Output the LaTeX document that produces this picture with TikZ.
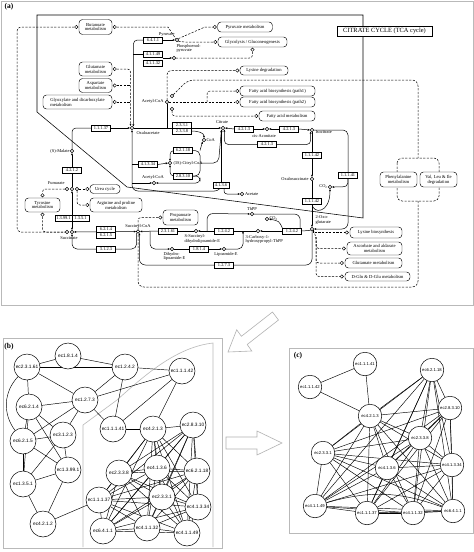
\documentclass[tikz,border=0pt]{standalone}
\usepackage{fontspec}
\setmainfont{Liberation Serif}
\newfontfamily\arialf{Liberation Sans}
\usetikzlibrary{arrows.meta}
\pgfdeclarelayer{back}
\pgfdeclarelayer{bg}
\pgfsetlayers{back,bg,main}
\tikzset{
  enz/.style={draw, fill=white, inner sep=0pt, minimum width=19pt, minimum height=6pt, font=\fontsize{4.4}{4.6}\selectfont, line width=0.45pt},
  mapb/.style={draw, fill=white, rounded corners=3.5pt, inner sep=1pt, align=center, font=\fontsize{4.6}{4.9}\selectfont, line width=0.45pt},
  cpd/.style={circle, draw, fill=white, inner sep=0pt, minimum size=3.4pt, line width=0.45pt},
  lbl/.style={inner sep=0.3pt, align=center, font=\fontsize{4.4}{4.6}\selectfont},
  ln/.style={line width=0.5pt},
  dl/.style={line width=0.5pt, dash pattern=on 2.2pt off 1.4pt},
  ar/.style={-{Latex[length=2.3pt,width=2.1pt]}},
  arb/.style={{Latex[length=2.3pt,width=2.1pt]}-{Latex[length=2.3pt,width=2.1pt]}},
  gn/.style={circle, draw, fill=white, minimum size=26pt, inner sep=0pt, font=\arialf\fontsize{4.8}{5}\selectfont, line width=0.5pt},
  gc/.style={circle, draw, fill=white, minimum size=23.5pt, inner sep=0pt, font=\arialf\fontsize{4.2}{5}\selectfont, line width=0.5pt},
  ge/.style={line width=0.45pt},
  frm/.style={draw=gray!55, line width=0.8pt},
  plbl/.style={font=\bfseries\fontsize{7.5}{8}\selectfont, inner sep=0pt},
  bigarr/.style={draw=gray!60, fill=white, line width=0.6pt},
}
\begin{document}
\begin{tikzpicture}[x=1pt,y=-1pt]
\begin{pgfonlayer}{back}
\fill[white] (0,0) rectangle (474,552);
\end{pgfonlayer}
\useasboundingbox (0,0) rectangle (474,552);
% ================= panel (a) =================
\draw[frm] (1,1) rectangle (473,305);
\node[plbl] (la) at (9,7) {(a)};
\draw[line width=0.55pt] (37,112) -- (37,15) -- (363,15) -- (363,218) -- (127,187) -- cycle;
\node[draw, line width=1pt, fill=white, font=\fontsize{6.4}{7}\selectfont, minimum width=95pt, minimum height=10pt, inner sep=0pt] (title) at (384.5,31) {CITRATE CYCLE (TCA cycle)};
\draw[dl, rounded corners=5] (397,158) rectangle (439,201);

% compounds
\node[cpd] (pyr) at (177,40) {};
\node[cpd] (pep) at (174,58) {};
\node[cpd] (acoa) at (167,102) {};
\node[cpd] (acoaT) at (172,96) {};
\node[cpd] (acoaB) at (172,109) {};
\node[cpd] (oaa) at (132,128) {};
\node[cpd] (cit) at (223,128) {};
\node[cpd] (cisa) at (267,129) {};
\node[cpd] (icit) at (312,130) {};
\node[cpd] (oxs) at (312,179) {};
\node[cpd] (co2a) at (330,187) {};
\node[cpd] (akg) at (312,229) {};
\node[cpd] (coa) at (204,140) {};
\node[cpd] (citcoa) at (170,163) {};
\node[cpd] (acoa2) at (154,183) {};
\node[cpd] (acet) at (242,194) {};
\node[cpd] (tpp) at (252,214) {};
\node[cpd] (co2b) at (267,219) {};
\node[cpd] (carb) at (258,231) {};
\node[cpd] (ssdl) at (196,231) {};
\node[cpd] (dhl) at (172,249) {};
\node[cpd] (lip) at (224,249) {};
\node[cpd] (sucoa) at (138,231.5) {};
\node[cpd] (succ) at (72,232) {};
\node[cpd] (succL) at (67,232) {};
\node[cpd] (fum) at (72,189) {};
\node[cpd] (fumL) at (67,189) {};
\node[cpd] (fumR) at (77,189) {};
\node[cpd] (mal) at (72,151) {};

% enzymes
\node[enz] (e6411) at (153,40) {6.4.1.1};
\node[enz] (e41149) at (153,54) {4.1.1.49};
\node[enz] (e41132) at (153,63) {4.1.1.32};
\node[enz] (e11137) at (101,128) {1.1.1.37};
\node[enz] (e2331) at (182,125) {2.3.3.1};
\node[enz] (e2338) at (182,131) {2.3.3.8};
\node[enz] (e4213a) at (244,129) {4.2.1.3};
\node[enz] (e4213b) at (289,129) {4.2.1.3};
\node[enz] (e4213c) at (267,144.5) {4.2.1.3};
\node[enz] (e11142a) at (312,155) {1.1.1.42};
\node[enz] (e11141) at (348,175) {1.1.1.41};
\node[enz] (e11142b) at (312,201) {1.1.1.42};
\node[enz] (e62118) at (183,150.5) {6.2.1.18};
\node[enz] (e41334) at (148,164.5) {4.1.3.34};
\node[enz] (e28310) at (183,176) {2.8.3.10};
\node[enz, minimum width=16pt] (e4136) at (221,185) {4.1.3.6};
\node[enz] (e4212) at (72,170) {4.2.1.2};
\node[enz, minimum width=17pt] (e13991) at (63.5,218) {1.3.99.1};
\node[enz, minimum width=17pt] (e1351) at (80.5,218) {1.3.5.1};
\node[enz] (e6214) at (106,229) {6.2.1.4};
\node[enz] (e6215) at (106,235) {6.2.1.5};
\node[enz] (e3123) at (106,249) {3.1.2.3};
\node[enz] (e23161) at (168,231) {2.3.1.61};
\node[enz] (e1242a) at (224,231) {1.2.4.2};
\node[enz] (e1242b) at (292,231) {1.2.4.2};
\node[enz] (e1814) at (199,249) {1.8.1.4};
\node[enz] (e1273) at (224,265) {1.2.7.3};

% maps
\node[mapb, minimum width=33pt, minimum height=15pt] (mBut) at (95.5,27) {Butanoate\\metabolism};
\node[mapb, minimum width=55pt, minimum height=10pt] (mPyr) at (245,27) {Pyruvate metabolism};
\node[mapb, minimum width=69pt, minimum height=10pt] (mGly) at (252.5,42) {Glycolysis / Gluconeogenesis};
\node[mapb, minimum width=33pt, minimum height=14pt] (mGlu) at (95.5,69) {Glutamate\\metabolism};
\node[mapb, minimum width=33pt, minimum height=14pt] (mAsp) at (95.5,85.5) {Aspartate\\metabolism};
\node[mapb, minimum width=69pt, minimum height=14pt, align=left] (mGlx) at (77.5,102) {Glyoxylate and dicarboxylate\\metabolism};
\node[mapb, minimum width=48pt, minimum height=9pt] (mLysD) at (264,70.5) {Lysine degradation};
\node[mapb, minimum width=75pt, minimum height=10pt] (mFA1) at (277.5,91) {Fatty acid biosynthesis (path1)};
\node[mapb, minimum width=75pt, minimum height=10pt] (mFA2) at (277.5,102) {Fatty acid biosynthesis (path2)};
\node[mapb, minimum width=56pt, minimum height=10pt] (mFAm) at (287,116) {Fatty acid metabolism};
\node[mapb, minimum width=37pt, minimum height=15pt] (mPhe) at (398.5,179.5) {Phenylalanine\\metabolism};
\node[mapb, minimum width=37pt, minimum height=15pt] (mVal) at (438.5,179.5) {Val, Leu \& Ile\\degradation};
\node[mapb, minimum width=30pt, minimum height=9pt] (mUrea) at (105,189) {Urea cycle};
\node[mapb, minimum width=52pt, minimum height=14pt] (mArg) at (116,205) {Arginine and proline\\metabolism};
\node[mapb, minimum width=35pt, minimum height=14pt] (mTyr) at (42.5,205) {Tyrosine\\metabolism};
\node[mapb, minimum width=35pt, minimum height=15pt] (mProp) at (180.5,217.5) {Propanoate\\metabolism};
\node[mapb, minimum width=52pt, minimum height=11pt] (mLysB) at (376,232.5) {Lysine biosynthesis};
\node[mapb, minimum width=55pt, minimum height=13pt] (mAsc) at (374.5,248.5) {Ascorbate and aldarate\\metabolism};
\node[mapb, minimum width=57pt, minimum height=10pt] (mGlu2) at (373.5,263) {Glutamate metabolism};
\node[mapb, minimum width=65pt, minimum height=9pt] (mDG) at (377.5,276.5) {D-Gln \& D-Glu metabolism};

% small link circles on maps
\node[cpd] (cButL) at ([xshift=-2.5pt]mBut.west) {};
\node[cpd] (cButR) at ([xshift=2.5pt]mBut.east) {};
\node[cpd] (cPyrM) at ([xshift=-2.5pt]mPyr.west) {};
\node[cpd] (cGly) at ([xshift=-2.5pt]mGly.west) {};
\node[cpd] (cGlyS) at ([yshift=-2.5pt]mGly.south) {};
\node[cpd] (cGlu) at ([xshift=2.5pt]mGlu.east) {};
\node[cpd] (cAsp) at ([xshift=2.5pt]mAsp.east) {};
\node[cpd] (cGlx) at ([xshift=2.5pt]mGlx.east) {};
\node[cpd] (cLysD) at ([xshift=-2.5pt]mLysD.west) {};
\node[cpd] (cFA1) at ([xshift=-2.5pt]mFA1.west) {};
\node[cpd] (cFA2) at ([xshift=-2.5pt]mFA2.west) {};
\node[cpd] (cFAm) at ([xshift=-2.5pt]mFAm.west) {};
\node[cpd] (cUrea) at ([xshift=-2.5pt]mUrea.west) {};
\node[cpd] (cArg) at ([xshift=-2.5pt]mArg.west) {};
\node[cpd] (cTyrT) at ([yshift=2.5pt]mTyr.north) {};
\node[cpd] (cTyrB) at ([yshift=-2.5pt]mTyr.south) {};
\node[cpd] (cProp) at ([xshift=-2.5pt]mProp.west) {};
\node[cpd] (cLysB) at ([xshift=-3pt]mLysB.west) {};
\node[cpd] (cAsc) at ([xshift=-3pt]mAsc.west) {};
\node[cpd] (cGlu2) at ([xshift=-3pt]mGlu2.west) {};
\node[cpd] (cDG) at ([xshift=-3pt]mDG.west) {};

% labels
\node[lbl, anchor=east] (tPyr) at (175,35) {Pyruvate};
\node[lbl, anchor=west, align=left] (tPep) at (176,48.5) {Phosphoenol-\\pyruvate};
\node[lbl, anchor=east] (tAcoa) at (164,101) {Acetyl-CoA};
\node[lbl, anchor=west] (tOaa) at (136,133) {Oxaloacetate};
\node[lbl] (tCit) at (222,122.5) {Citrate};
\node[lbl] (tCisa) at (264,136) {cis-Aconitate};
\node[lbl, anchor=west] (tIcit) at (315,132) {Isocitrate};
\node[lbl, anchor=east] (tOxs) at (309,179) {Oxalosuccinate};
\node[lbl, anchor=east] (tCo2a) at (328,187) {CO\textsubscript{2}};
\node[lbl, anchor=west, align=left] (tAkg) at (315,220) {2-Oxo-\\glutarate};
\node[lbl, anchor=west] (tCoa) at (206,140) {CoA};
\node[lbl, anchor=west] (tCitcoa) at (173,163) {(3S)-Citryl-CoA};
\node[lbl] (tAcoa2) at (153,177.5) {Acetyl-CoA};
\node[lbl, anchor=west] (tAcet) at (244.5,194) {Acetate};
\node[lbl] (tTpp) at (252,208.5) {ThPP};
\node[lbl, anchor=west] (tCo2b) at (269,219) {CO\textsubscript{2}};
\node[lbl, align=left, anchor=north west] (tCarb) at (245,234.5) {3-Carboxy-1-\\hydroxypropyl-ThPP};
\node[lbl, align=left, anchor=north west] (tSsdl) at (184,234) {S-Succinyl-\\dihydrolipoamide-E};
\node[lbl, align=left, anchor=north west] (tDhl) at (163,251.5) {Dihydro-\\lipoamide-E};
\node[lbl, anchor=north] (tLip) at (226,251.5) {Lipoamide-E};
\node[lbl] (tSucoa) at (138,226) {Succinyl-CoA};
\node[lbl] (tSucc) at (69,238.5) {Succinate};
\node[lbl, anchor=east] (tFum) at (65,183) {Fumarate};
\node[lbl, anchor=east] (tMal) at (70,151) {(S)-Malate};

\coordinate (jT) at (207,231);
\coordinate (jR) at (243,231);
\coordinate (jL) at (150,231.3);
\coordinate (jFA) at (207,102);
\coordinate (jAkg) at (316,237);
\coordinate (jC) at (200,163);

\begin{pgfonlayer}{bg}
% pyruvate / PEP
\draw[ln,ar] (e6411.east) -- (pyr.west);
\draw[ln,ar,rounded corners=4] (e6411.west) -| (oaa.north east);
\draw[ln] (e41149.west) -- (e41149.west -| oaa.north east);
\draw[ln,ar] (e41149.east |- pep) -- (pep.west);
\draw[dl] (pyr.north east) -- (205,27) -- (cPyrM.west);
\draw[dl] (pyr.south east) -- (185,42) -- (cGly.west);
\draw[dl,rounded corners=3] (pep.east) -| (cGlyS.south);
\draw[dl] (cButR.east) -- (168,27) -- (pyr.north west);
\draw[dl,rounded corners=4] (cButL.west) -- (17,27) -- (17,232) -- (succL.west);
% glutamate etc. to oxaloacetate
\draw[dl,ar,rounded corners=3] (cGlu.east) -| ([xshift=-1.5pt]oaa.north);
\draw[dl] (cAsp.east) -- ([xshift=-1.5pt]cAsp.east -| oaa.north);
\draw[dl] (cGlx.east) -- ([xshift=-1.5pt]cGlx.east -| oaa.north);
% acetyl-CoA dashed
\draw[dl,rounded corners=4] (acoa.north) |- (cLysD.west);
\draw[dl] (acoa.east) -- (cFA2.west);
\draw[dl,rounded corners=3] (jFA) |- (cFA1.west);
\draw[dl,rounded corners=3] (acoaB.south) |- (cFAm.west);
\draw[dl,rounded corners=6] (acoaT.north east) -- (188,80) -- (418,80) -- (418,158);
\draw[dl,rounded corners=6] (418,201) -- (418,287) -- (138,287) -- (sucoa.south);
\draw[dl,rounded corners=3] (sucoa.north) |- (cProp.west);
% 2-oxoglutarate dashed
\draw[dl] (akg.south east) |- (cLysB.west);
\draw[dl,rounded corners=3] (akg.south east) -- (jAkg) |- (cAsc.west);
\draw[dl,rounded corners=3] (jAkg) |- (cGlu2.west);
\draw[dl,rounded corners=3] (jAkg) |- (cDG.west);
% citrate formation
\draw[ln,ar] (oaa.east) -- (cit.west);
\draw[ln] (acoa.south) -- (acoa.south |- oaa.east);
\draw[ln,ar] (e2338.east) to[out=0,in=90] (coa.north);
% aconitase
\draw[ln,ar] (e4213a.west) -- (cit.east);
\draw[ln,ar] (e4213a.east) -- (cisa.west);
\draw[ln,ar] (e4213b.west) -- (cisa.east);
\draw[ln,ar] (e4213b.east) -- (icit.west);
\draw[ln,ar,rounded corners=4] (e4213c.west) -| (cit.south east);
\draw[ln,ar,rounded corners=4] (e4213c.east) -| (icit.south west);
% isocitrate dehydrogenase
\draw[ln] (icit.south) -- (e11142a.north);
\draw[ln,ar] (e11142a.south) -- (oxs.north);
\draw[ln] (oxs.south) -- (e11142b.north);
\draw[ln,ar] (e11142b.south) -- (akg.north);
\draw[ln,rounded corners=5] (icit.east) -| (e11141.north);
\draw[ln,ar,rounded corners=6] (e11141.south) |- (akg.east);
\draw[ln,ar] (e11141.south) .. controls (348,187) .. (co2a.east);
\draw[ln,ar] (e11142b.south) .. controls (313,214) and (330,214) .. (co2a.south);
% 2-oxoglutarate -> succinyl-CoA
\draw[ln] (akg.south west) -- (e1242b.east);
\draw[ln,ar] (e1242b.west) -- (carb.east);
\draw[ln] (carb.west) -- (e1242a.east);
\draw[ln,ar] (e1242a.west) -- (ssdl.east);
\draw[ln] (ssdl.west) -- (e23161.east);
\draw[ln,ar] (e23161.west) -- (sucoa.east);
\draw[ln,ar,rounded corners=6] (jT) -- (207,213.5) -- (tpp.west);
\draw[ln,rounded corners=6] (tpp.east) -| ([xshift=-1.5pt]e1242b.north east);
\draw[ln,ar] (e1242b.north west) .. controls (279,221) .. (co2b.east);
\draw[ln,ar,rounded corners=5] (jL) |- (dhl.west);
\draw[ln] (dhl.east) -- (e1814.west);
\draw[ln,ar] (e1814.east) -- (lip.west);
\draw[ln,ar,rounded corners=5] (lip.east) -| (jR);
\draw[ln,rounded corners=6] (akg.south) |- (e1273.east);
\draw[ln,ar,rounded corners=6] (e1273.west) -| (sucoa.south east);
% succinyl-CoA -> succinate -> fumarate -> malate -> oxaloacetate
\draw[ln,arb] (sucoa.west) -- (succ.east);
\draw[ln,rounded corners=5] (sucoa.south west) |- (e3123.east);
\draw[ln,ar,rounded corners=5] (e3123.west) -| (succ.south);
\draw[ln,arb] (succ.north) -- (fum.south);
\draw[ln] (fum.north) -- (e4212.south);
\draw[ln,ar] (e4212.north) -- (mal.south);
\draw[ln,rounded corners=4] (mal.north) |- (e11137.west);
\draw[ln,ar] (e11137.east) -- (oaa.west);
\draw[dl] (fumR.east) -- (cUrea.west);
\draw[dl,rounded corners=3] (fumR.south) |- (cArg.west);
\draw[dl,rounded corners=3] (fumL.west) -| (cTyrT.north);
\draw[dl,rounded corners=3] (cTyrB.south) |- (succL.west);
% lower loop from oxaloacetate
\draw[ln,ar,rounded corners=6] (e4136.south) -- (220.5,191) -- (132,191) -- (oaa.south);
\draw[ln,ar] (e4136.north -| cit.south west) -- (cit.south west);
\draw[ln,ar,rounded corners=3] ([xshift=3pt]e4136.south) |- (acet.west);
\draw[ln] (e41334.west) -- (e41334.west -| oaa.south);
\draw[ln,ar] (e41334.east) -- (citcoa.west);
\draw[ln,ar] (acoa2.west -| oaa.south) -- (acoa2.west);
\draw[ln,ar,rounded corners=4] (e62118.west) -| (citcoa.north);
\draw[ln,ar,rounded corners=4] (e28310.west) -| (citcoa.south);
\draw[ln,rounded corners=5] (e62118.east) -- (200,150.5) -- (200,176) -- (e28310.east);
\draw[ln,ar] (200,150.5) -- (coa.south west);
\draw[ln,ar,rounded corners=5] (jC) -- (218.5,163) -- ([xshift=-1.6pt]cit.south);
\draw[ln,ar,rounded corners=4] (e28310.east) -- (200,176) -- (200,183) -- (acoa2.east);
\end{pgfonlayer}

% ================= panel (b) =================
\draw[frm] (3,338) rectangle (222,548);
\node[plbl] (lb) at (9,347) {(b)};
\node[gn] (b23161) at (27,367) {ec2.3.1.61};
\node[gn] (b1814) at (68,356) {ec1.8.1.4};
\node[gn] (b1242) at (125,367) {ec1.2.4.2};
\node[gn] (b6214) at (29,407) {ec6.2.1.4};
\node[gn] (b1273) at (85,400) {ec1.2.7.3};
\node[gn] (b11142) at (182,371) {ec1.1.1.42};
\node[gn] (b6215) at (23,441) {ec6.2.1.5};
\node[gn] (b3123) at (63,435) {ec3.1.2.3};
\node[gn] (b11141) at (113,429) {ec1.1.1.41};
\node[gn] (b4213) at (153,429) {ec4.2.1.3};
\node[gn] (b28310) at (193,425) {ec2.8.3.10};
\node[gn] (b13991) at (68,470) {ec1.3.99.1};
\node[gn] (b1351) at (23,484) {ec1.3.5.1};
\node[gn] (b2338) at (119,473) {ec2.3.3.8};
\node[gn] (b4136) at (157,468) {ec4.1.3.6};
\node[gn] (b62118) at (197,471) {ec6.2.1.18};
\node[gn] (b11137) at (99,500) {ec1.1.1.37};
\node[gn] (b2331) at (162,497) {ec2.3.3.1};
\node[gn] (b41334) at (198,507) {ec4.1.3.34};
\node[gn] (b4212) at (43,524) {ec4.2.1.2};
\node[gn] (b6411) at (103,531) {ec6.4.1.1};
\node[gn] (b41132) at (147,528) {ec4.1.1.32};
\node[gn] (b41149) at (187,533) {ec4.1.1.49};
\begin{pgfonlayer}{bg}
\draw[draw=gray!55, line width=0.6pt] (83,547) -- (83,425) -- (117,400) .. controls (148,372) and (178,347) .. (213,343) -- (213,547);
\foreach \a/\b in {b23161/b1814, b23161/b1242, b1814/b1242, b23161/b6214, b23161/b1273, b1242/b1273, b1242/b11142, b1242/b11141, b1273/b6214, b1273/b11142, b1273/b6215, b1273/b3123, b1273/b11141, b11142/b11141, b11142/b4213, b6214/b6215, b6214/b3123, b6214/b13991, b6214/b1351, b6215/b3123, b6215/b13991, b6215/b1351, b3123/b13991, b3123/b1351, b13991/b1351, b13991/b4212, b1351/b4212, b4212/b11137, b11141/b4213}
  \draw[ge] (\a) -- (\b);
\draw[ge] (b23161) to[bend right=40] (b6215);
\foreach \a [count=\i] in {b4213,b28310,b4136,b62118,b2338,b2331,b41334,b11137,b6411,b41132,b41149}{
  \foreach \b [count=\j] in {b4213,b28310,b4136,b62118,b2338,b2331,b41334,b11137,b6411,b41132,b41149}{
    \ifnum\j>\i \draw[ge] (\a) -- (\b); \fi
  }
}
\end{pgfonlayer}

% ================= arrows =================
\draw[bigarr] (228,352) -- (236.7,329.8) -- (241.4,336.3) -- (272.5,312) -- (278.5,320) -- (247.2,344.5) -- (251.8,351) -- cycle;
\draw[bigarr] (226,437) -- (257,437) -- (257,431) -- (282,443) -- (257,455) -- (257,449) -- (226,449) -- cycle;

% ================= panel (c) =================
\draw[frm] (289,348) rectangle (473,533);
\node[plbl] (lc) at (298,356) {(c)};
\node[gc] (c11141) at (365,364) {ec1.1.1.41};
\node[gc] (c62118) at (432,370) {ec6.2.1.18};
\node[gc] (c11142) at (310,387) {ec1.1.1.42};
\node[gc] (c28310) at (450,408) {ec2.8.3.10};
\node[gc] (c4213) at (370,416) {ec4.2.1.3};
\node[gc] (c2338) at (420,438) {ec2.3.3.8};
\node[gc] (c2331) at (323,453) {ec2.3.3.1};
\node[gc] (c4136) at (387,468) {ec4.1.3.6};
\node[gc] (c41334) at (452,465) {ec4.1.3.34};
\node[gc] (c41149) at (315,506) {ec4.1.1.49};
\node[gc] (c11137) at (367,513) {ec1.1.1.37};
\node[gc] (c41132) at (413,513) {ec4.1.1.32};
\node[gc] (c6411) at (453,511) {ec6.4.1.1};
\begin{pgfonlayer}{bg}
\foreach \a/\b in {c11141/c11142, c11141/c4213, c11142/c4213}
  \draw[ge] (\a) -- (\b);
\foreach \a [count=\i] in {c4213,c28310,c4136,c62118,c2338,c2331,c41334,c11137,c6411,c41132,c41149}{
  \foreach \b [count=\j] in {c4213,c28310,c4136,c62118,c2338,c2331,c41334,c11137,c6411,c41132,c41149}{
    \ifnum\j>\i \draw[ge] (\a) -- (\b); \fi
  }
}
\draw[ge] (c41149) to[bend left=18] (c6411);
\end{pgfonlayer}
\end{tikzpicture}
\end{document}
